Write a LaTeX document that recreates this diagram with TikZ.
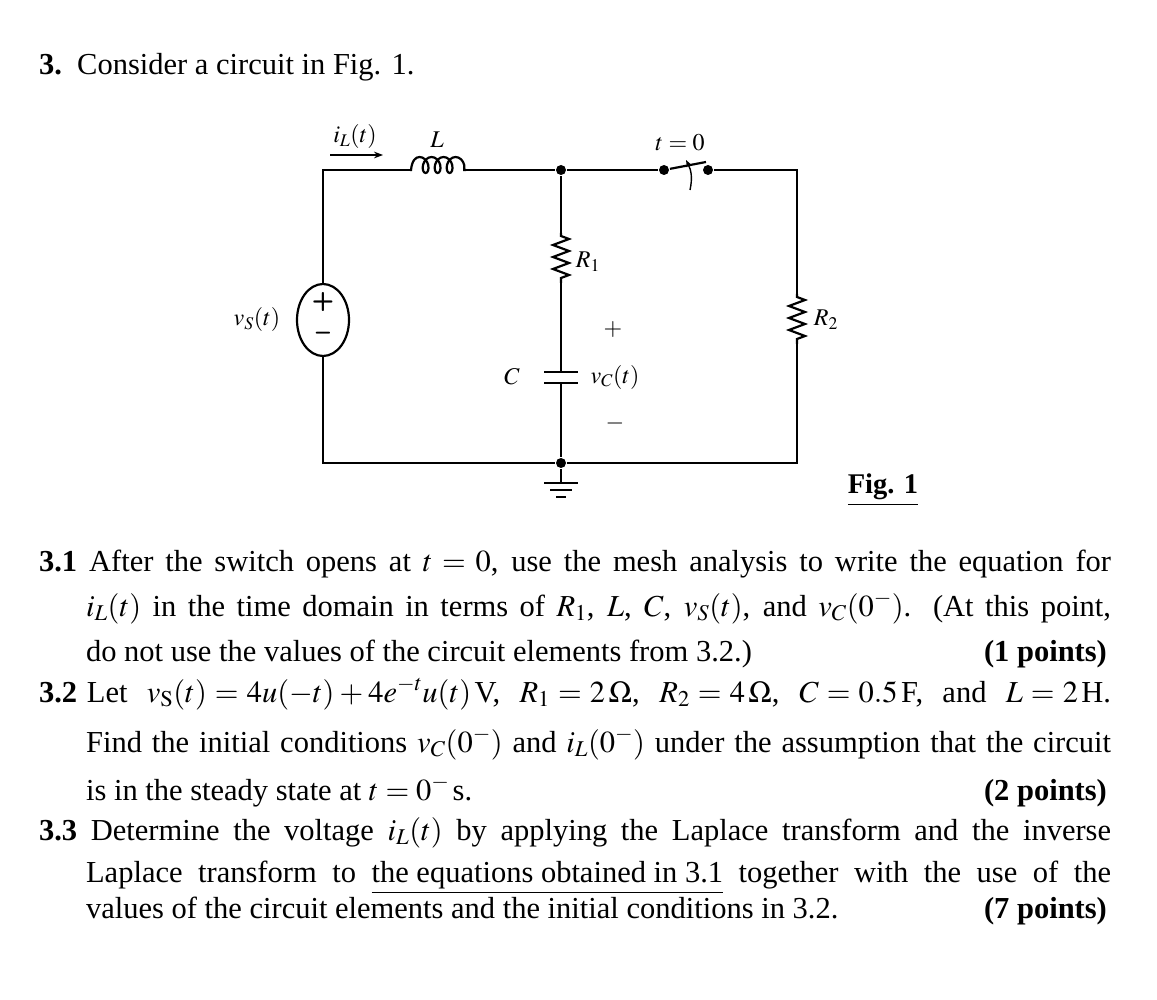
\documentclass[tikz,border=0pt]{standalone}
\usepackage{mathptmx}
\usepackage[no-math]{fontspec}
\setmainfont{Liberation Serif}
\usetikzlibrary{decorations.pathmorphing,arrows.meta,shapes.geometric}
\newcommand{\jline}[2]{\parbox[b]{#1}{\parfillskip=0pt\noindent #2}}
\begin{document}
\begin{tikzpicture}[x=1pt,y=-1pt,line width=2.2pt,
  txt/.style={anchor=base west,inner sep=0pt,font=\fontsize{30.5}{33}\selectfont},
  pts/.style={anchor=base east,inner sep=0pt,font=\fontsize{30.5}{33}\selectfont\bfseries},
  lab/.style={inner sep=0pt,font=\fontsize{24}{26}\selectfont},
  dotc/.style={circle,fill,inner sep=0pt,minimum size=10pt},
  res/.style={decorate,decoration={zigzag,amplitude=8pt,segment length=12pt,pre length=3pt,post length=3pt}}]
\useasboundingbox (0,0) rectangle (1157,1000);
% text
\node[txt] (t0) at (38,75) {\textbf{3.}\ \ Consider a circuit in Fig. 1.};
\node[txt] (l1) at (38,571) {\jline{1072pt}{\textbf{3.1} After the switch opens at $t=0$, use the mesh analysis to write the equation for}};
\node[txt] (l2) at (85,616) {\jline{1025pt}{$i_L(t)$ in the time domain in terms of $R_1$, $L$, $C$, $v_S(t)$, and $v_C(0^-)$. (At this point,}};
\node[txt] (l3) at (85,661) {do not use the values of the circuit elements from 3.2.)};
\node[pts] (p1) at (1108,661) {(1 points)};
\node[txt] (l4) at (38,702) {\jline{1072pt}{\textbf{3.2} Let\ \ $v_{\mathrm{S}}(t)=4u(-t)+4e^{-t}u(t)\,$V, \ $R_1=2\,\Omega$, \ $R_2=4\,\Omega$, \ $C=0.5\,$F, \ and \ $L=2\,$H.}};
\node[txt] (l5) at (85,752) {\jline{1025pt}{Find the initial conditions $v_C(0^-)$ and $i_L(0^-)$ under the assumption that the circuit}};
\node[txt] (l6) at (85,800) {is in the steady state at $t=0^-\,$s.};
\node[pts] (p2) at (1108,800) {(2 points)};
\node[txt] (l7) at (38,840) {\jline{1072pt}{\textbf{3.3} Determine the voltage $i_L(t)$ by applying the Laplace transform and the inverse}};
\node[txt] (l8) at (85,882) {\jline{1025pt}{Laplace transform to \underline{the equations obtained in 3.1} together with the use of the}};
\node[txt] (l9) at (85,918) {values of the circuit elements and the initial conditions in 3.2.};
\node[pts] (p3) at (1108,918) {(7 points)};
\node[inner sep=0pt,font=\fontsize{28.5}{30}\selectfont\bfseries] (fig) at (883,490) {\underline{Fig. 1}};
% circuit
\coordinate (tl) at (323,170);
\coordinate (bl) at (323,463);
\node[dotc] (mt) at (561,170) {};
\node[dotc] (mb) at (561,463) {};
\coordinate (tr) at (797,170);
\coordinate (br) at (797,463);
\node[draw,ellipse,minimum width=52pt,minimum height=72pt,inner sep=0pt,line width=2.2pt] (src) at (323,320) {};
\node[font=\sffamily\bfseries\fontsize{26}{26}\selectfont,inner sep=0pt] (sp) at (323,302) {+};
\node[font=\sffamily\bfseries\fontsize{26}{26}\selectfont,inner sep=0pt] (sm) at (323,336) {\textendash};
\coordinate (ls) at (410,170);
\coordinate (le) at (466,170);
\node[dotc] (sa) at (664,170) {};
\node[dotc] (sb) at (708,170) {};
\coordinate (r1a) at (561,233);
\coordinate (r1b) at (561,283);
\coordinate (r2a) at (797,294);
\coordinate (r2b) at (797,344);
\coordinate (c1) at (561,372);
\coordinate (c2) at (561,383);
\coordinate (g0) at (561,483);
\draw (src.north) -- (tl) -- (ls);
\draw[decorate,decoration={coil,aspect=0.7,segment length=12pt,amplitude=8pt,raise=5pt,pre length=1pt,post length=1pt}] (ls) -- (le);
\draw (le) -- (mt) -- (sa);
\draw (sa) -- (706,162);
\draw[-{Stealth[length=7pt]},line width=1.4pt] (690,190) to[bend right=20] (686,160);
\draw (sb) -- (tr) -- (r2a);
\draw[res] (r2a) -- (r2b);
\draw (r2b) -- (br) -- (mb) -- (bl) -- (src.south);
\draw (mt) -- (r1a);
\draw[res] (r1a) -- (r1b);
\draw (r1b) -- (c1);
\draw (544,372) -- (578,372);
\draw (544,383) -- (578,383);
\draw (c2) -- (mb) -- (g0);
\draw (544,483) -- (578,483);
\draw (550,490) -- (572,490);
\draw (556,497) -- (566,497);
% labels
\node[lab] (vs) at (257,320) {$v_S(t)$};
\node[lab] (il) at (355,137) {$i_L(t)$};
\draw[-{Stealth[length=9pt]},line width=1.4pt] (330,155) -- (383,155);
\node[lab] (Ll) at (437,140) {$L$};
\node[lab] (sw) at (680,143) {$t=0$};
\node[lab] (R1l) at (588,262) {$R_1$};
\node[lab] (R2l) at (826,320) {$R_2$};
\node[lab] (cp) at (613,330) {$+$};
\node[lab] (Cl) at (512,377) {$C$};
\node[lab] (vc) at (615,377) {$v_C(t)$};
\node[lab] (cm) at (615,423) {$-$};
\end{tikzpicture}
\end{document}
